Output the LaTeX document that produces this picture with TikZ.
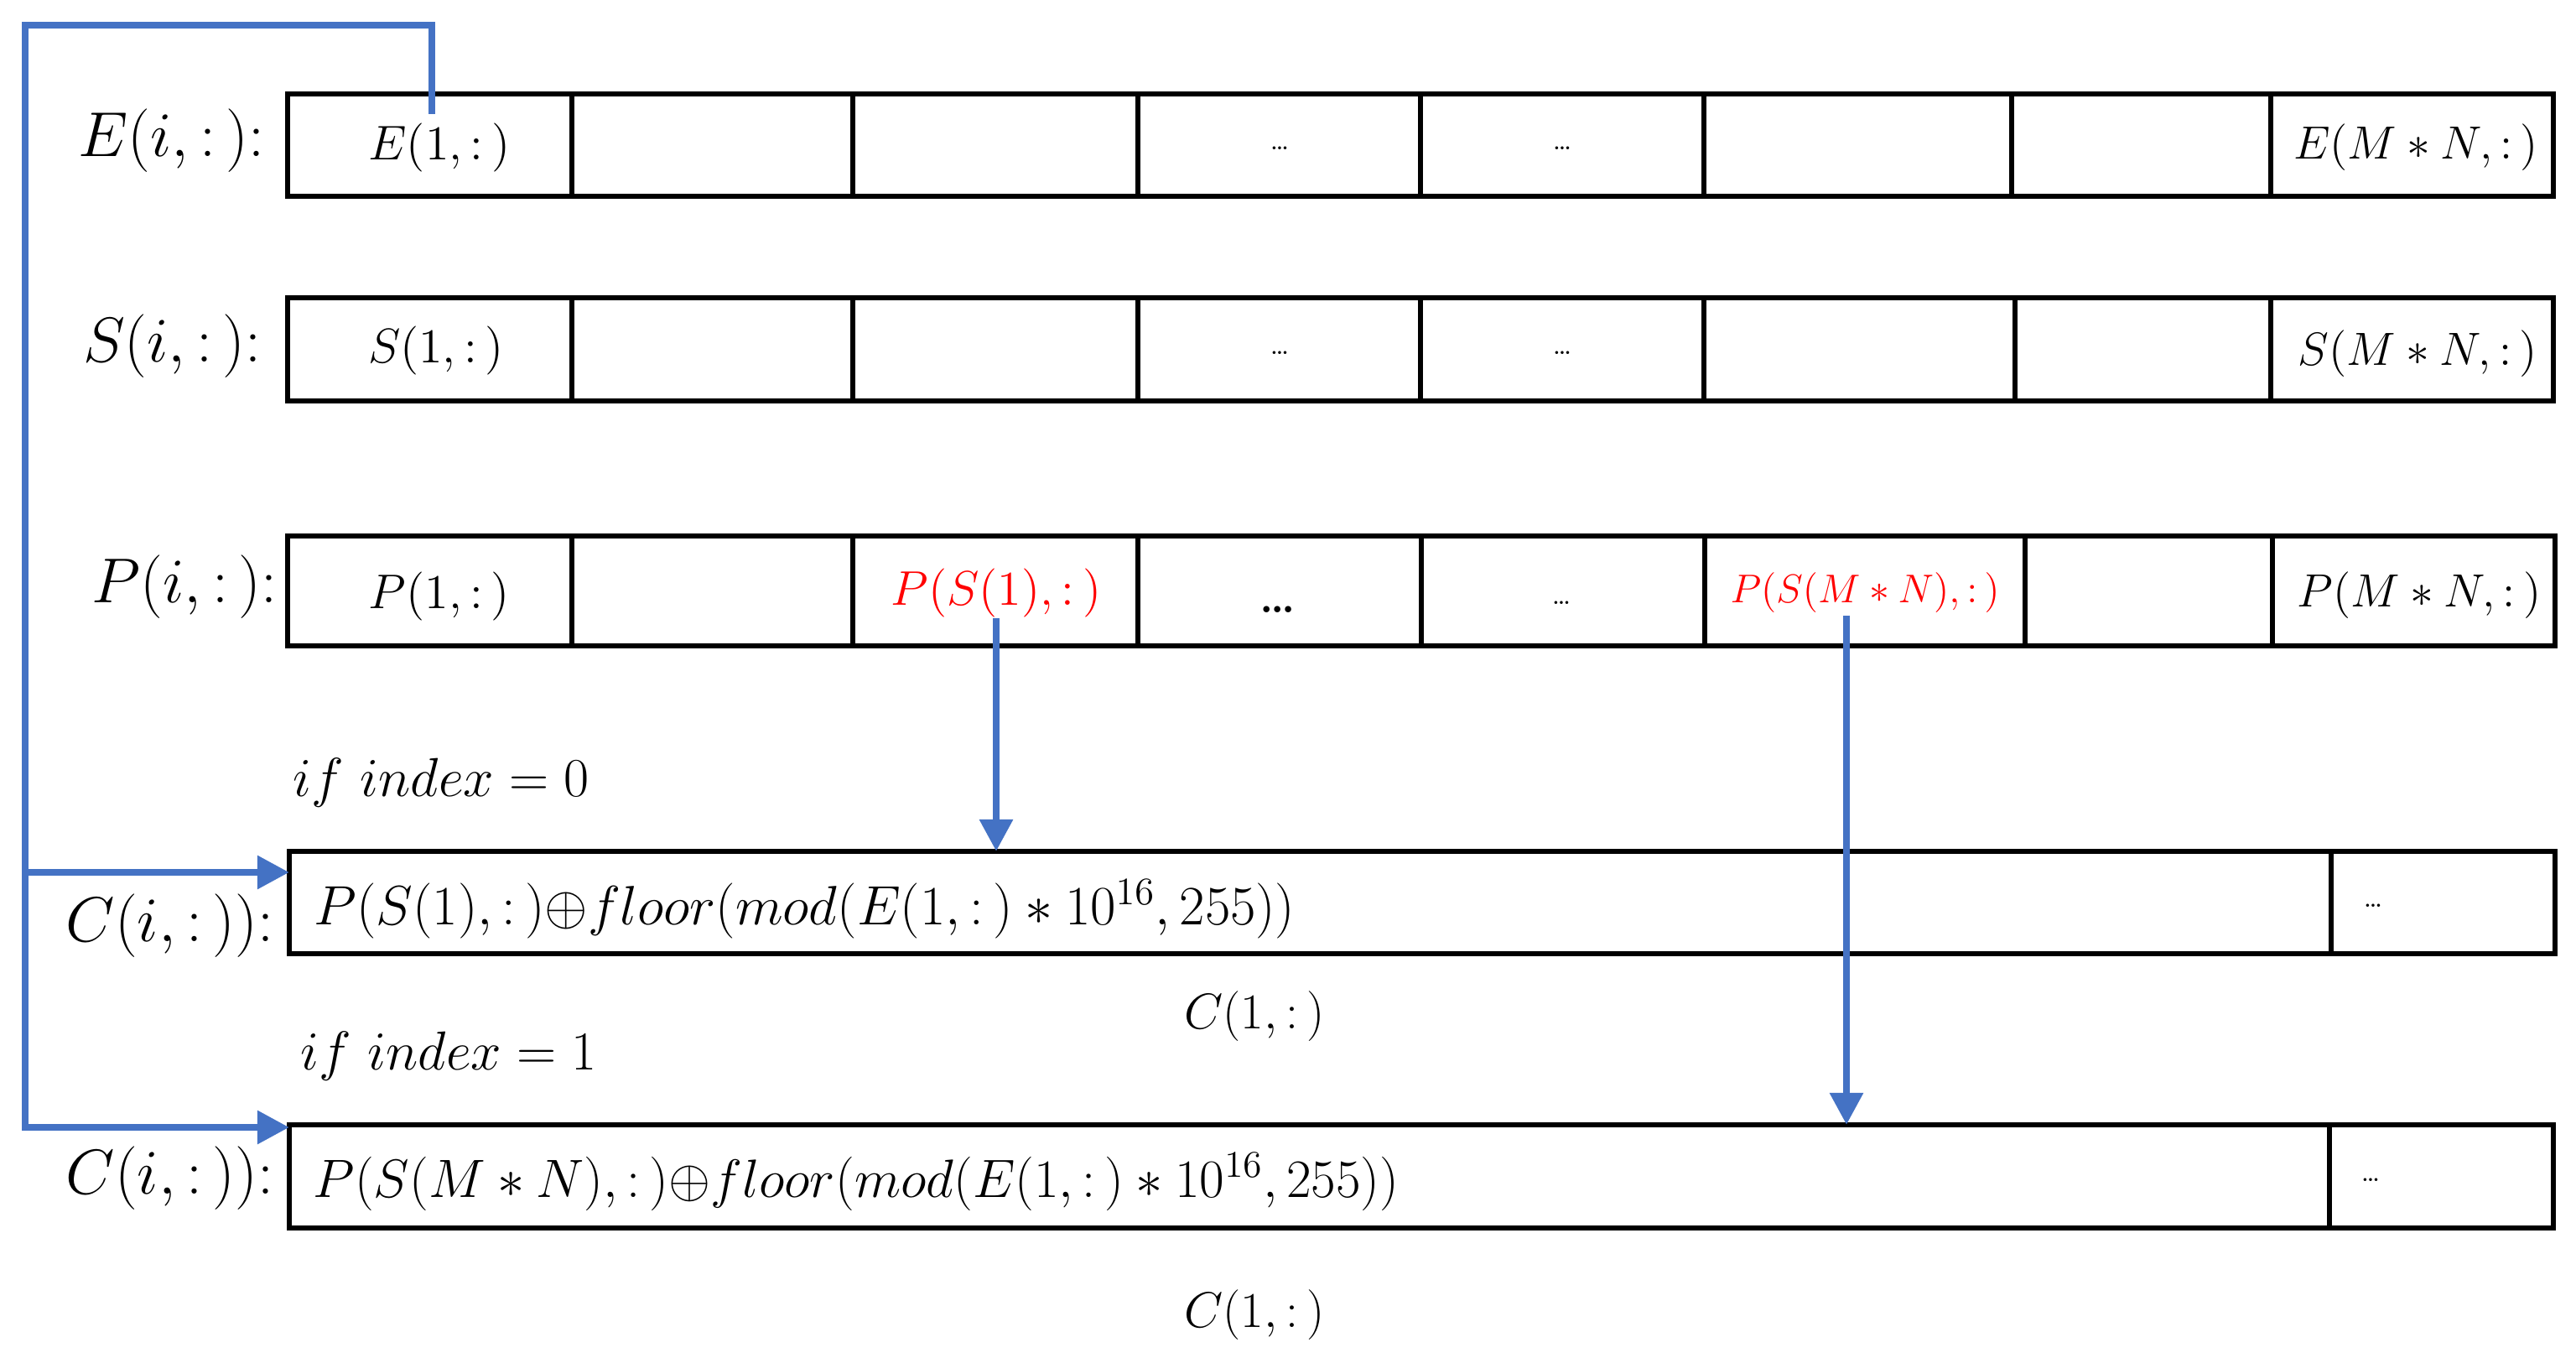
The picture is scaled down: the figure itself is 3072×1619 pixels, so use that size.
\RequirePackage{fix-cm}
\documentclass[tikz,border=0pt]{standalone}
\usetikzlibrary{arrows.meta}
\definecolor{arrblue}{HTML}{4472C4}
\definecolor{redtxt}{HTML}{FF0000}
\tikzset{
  cellbox/.style={draw=black, line width=1.8pt, rectangle, inner sep=0pt, outer sep=0pt},
  rowlabel/.style={font=\fontsize{21.5}{25}\selectfont, anchor=east, inner sep=0pt},
  celltxt/.style={font=\fontsize{16.5}{20}\selectfont, inner sep=0pt},
  widetxt/.style={font=\fontsize{15.8}{19}\selectfont, inner sep=0pt},
  redtxtstyle/.style={celltxt, text=redtxt},
  formula/.style={font=\fontsize{18.8}{22}\selectfont, anchor=west, inner sep=0pt},
  condtxt/.style={font=\fontsize{18.6}{22}\selectfont, anchor=west, inner sep=0pt},
  smalldots/.style={font=\fontsize{9.5}{10}\selectfont, inner sep=0pt},
  bigdots/.style={font=\fontsize{15}{16}\selectfont\bfseries, inner sep=0pt},
  bluepath/.style={draw=arrblue, line width=2.5pt},
  bluearrow/.style={bluepath, -{Triangle[width=0.38cm,length=0.38cm]}}
}
\newcommand{\mkcell}[5]{\node[cellbox, minimum width={(#3-#2)*0.01cm}, minimum height={(#5-#4)*0.01cm}] (#1) at ({(#2+#3)/2},{(#4+#5)/2}) {};}
\newcommand{\cln}{:\,}
\begin{document}
\begin{tikzpicture}[x=0.01cm,y=-0.01cm]
\useasboundingbox (0,0) rectangle (3072,1619);

% E row
\mkcell{e1}{343}{682}{112}{234}
\mkcell{e2}{682}{1017}{112}{234}
\mkcell{e3}{1017}{1357}{112}{234}
\mkcell{e4}{1357}{1694}{112}{234}
\mkcell{e5}{1694}{2032}{112}{234}
\mkcell{e6}{2032}{2399}{112}{234}
\mkcell{e7}{2399}{2708}{112}{234}
\mkcell{e8}{2708}{3045}{112}{234}
% S row
\mkcell{s1}{343}{682}{355}{478}
\mkcell{s2}{682}{1017}{355}{478}
\mkcell{s3}{1017}{1357}{355}{478}
\mkcell{s4}{1357}{1694}{355}{478}
\mkcell{s5}{1694}{2032}{355}{478}
\mkcell{s6}{2032}{2403}{355}{478}
\mkcell{s7}{2403}{2708}{355}{478}
\mkcell{s8}{2708}{3045}{355}{478}
% P row
\mkcell{p1}{343}{682}{639}{770}
\mkcell{p2}{682}{1017}{639}{770}
\mkcell{p3}{1017}{1357}{639}{770}
\mkcell{p4}{1357}{1695}{639}{770}
\mkcell{p5}{1695}{2033}{639}{770}
\mkcell{p6}{2033}{2415}{639}{770}
\mkcell{p7}{2415}{2710}{639}{770}
\mkcell{p8}{2710}{3047}{639}{770}
% C rows
\mkcell{c1}{345}{2780}{1015}{1137}
\mkcell{c1b}{2780}{3047}{1015}{1137}
\mkcell{c2}{345}{2778}{1341}{1464}
\mkcell{c2b}{2778}{3045}{1341}{1464}

% row labels
\node[rowlabel] (le) at (316,168) {$E(i,\cln)$:};
\node[rowlabel] (ls) at (312,413) {$S(i,\cln)$:};
\node[rowlabel] (lp) at (331,700) {$P(i,\cln)$:};
\node[rowlabel] (lc1) at (327,1104) {$C(i,\cln))$:};
\node[rowlabel] (lc2) at (327,1405) {$C(i,\cln))$:};

% cell texts
\node[celltxt] (te1) at (524,176) {$E(1,\cln)$};
\node[widetxt] (te8) at (2881,176) {$E(M\ast N,\cln)$};
\node[celltxt] (ts1) at (520,418) {$S(1,\cln)$};
\node[widetxt] (ts8) at (2883,422) {$S(M\ast N,\cln)$};
\node[celltxt] (tp1) at (524,711) {$P(1,\cln)$};
\node[redtxtstyle] (tp3) at (1188,707) {$P(S(1),\cln)$};
\node[redtxtstyle, font=\fontsize{13.6}{16}\selectfont] (tp6) at (2224,707) {$P(S(M\ast N),\cln)$};
\node[widetxt] (tp8) at (2885,710) {$P(M\ast N,\cln)$};

% dots
\node[smalldots] (de4) at (1526,177) {\ldots};
\node[smalldots] (de5) at (1863,177) {\ldots};
\node[smalldots] (ds4) at (1526,421) {\ldots};
\node[smalldots] (ds5) at (1863,421) {\ldots};
\node[bigdots] (dp4) at (1524,727) {\ldots};
\node[smalldots] (dp5) at (1862,719) {\ldots};
\node[smalldots] (dc1) at (2830,1080) {\ldots};
\node[smalldots] (dc2) at (2827,1407) {\ldots};

% formulas
\node[formula] (f1) at (374,1084) {$P(S(1),\cln){\oplus}floor(mod(E(1,\cln)\ast 10^{16},255))$};
\node[formula, font=\fontsize{18.3}{22}\selectfont] (f2) at (373,1409) {$P(S(M\ast N),\cln){\oplus}floor(mod(E(1,\cln)\ast 10^{16},255))$};

% conditions
\node[condtxt] (if0) at (349,933) {$if\ index=0$};
\node[condtxt] (if1) at (358,1259) {$if\ index=1$};

% C(1,:) captions
\node[celltxt, font=\fontsize{17}{20}\selectfont] (cap1) at (1496,1212) {$C(1,\cln)$};
\node[celltxt, font=\fontsize{17}{20}\selectfont] (cap2) at (1496,1568) {$C(1,\cln)$};

% blue connectors
\coordinate (eA) at (515,136);
\coordinate (topL) at (30,30);
\coordinate (c1from) at (30,1040);
\coordinate (c1to) at (345,1040);
\coordinate (c2to) at (345,1344);
\draw[bluearrow] (eA) |- (topL) |- (c2to);
\draw[bluearrow] (c1from) -- (c1to);
\coordinate (pa) at (1188,737);
\coordinate (pb) at (2202,734);
\draw[bluearrow] (pa) -- (pa |- c1.north);
\draw[bluearrow] (pb) -- (pb |- c2.north);
\end{tikzpicture}
\end{document}
